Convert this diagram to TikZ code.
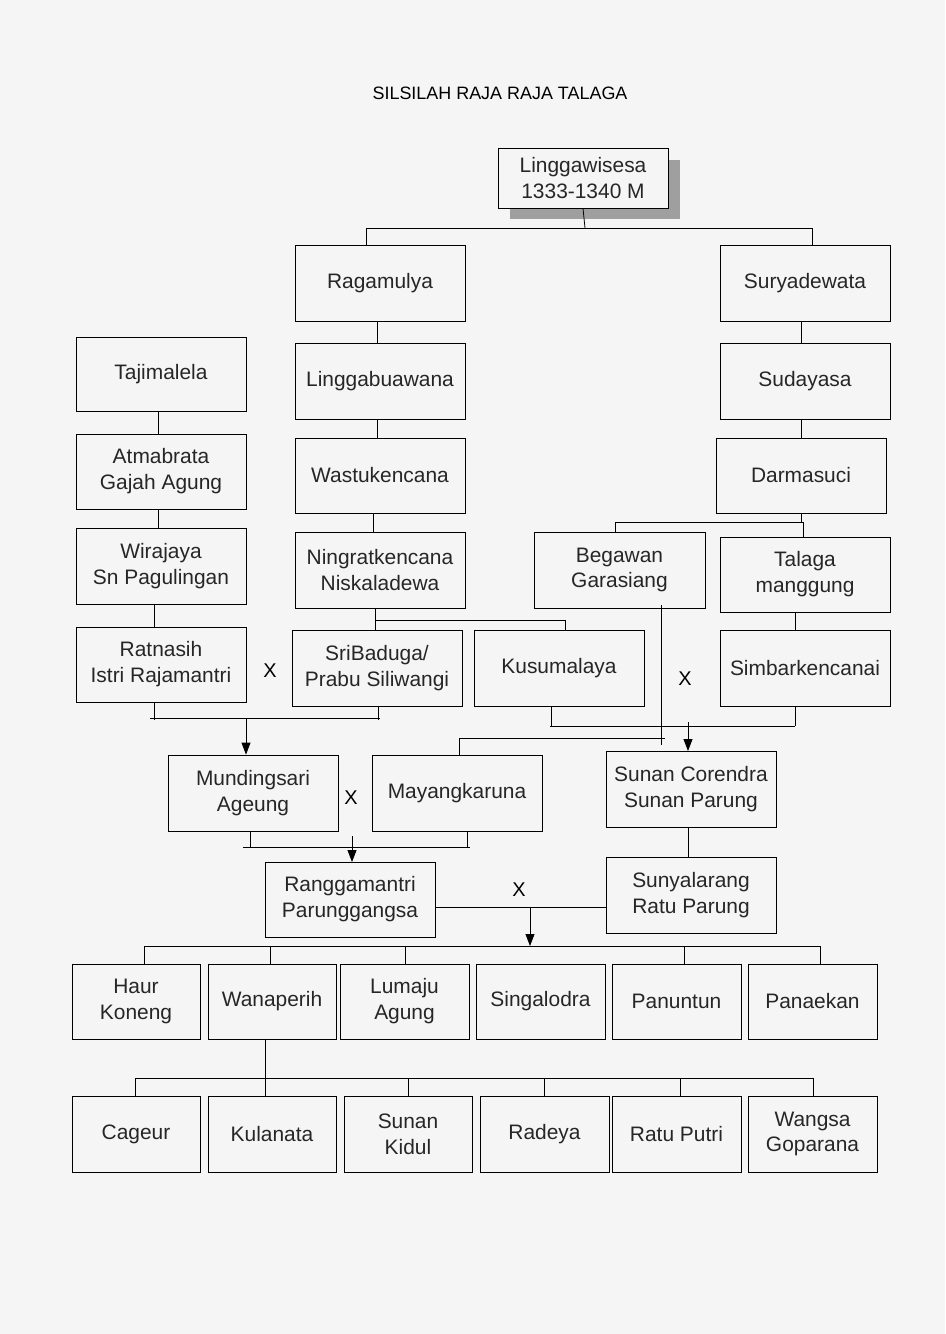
\documentclass[tikz,border=0pt]{standalone}
\usepackage{fontspec}
\setmainfont{Liberation Sans}
\usetikzlibrary{arrows.meta}
\definecolor{bg}{HTML}{F5F5F5}
\begin{document}
\begin{tikzpicture}[x=1bp,y=-1bp,
  box/.style={draw=black,line width=0.8bp,fill=bg,inner sep=0pt,align=center,font=\fontsize{21}{26}\selectfont,text=black!85},
  ln/.style={draw=black,line width=0.8bp},
  arr/.style={ln,-{Triangle[length=12bp,width=9bp]}},
  xm/.style={font=\fontsize{20}{24}\selectfont}]
\fill[bg] (0,0) rectangle (945,1334);
\useasboundingbox (0,0) rectangle (945,1334);
\newcommand\bx[6]{\node[box,minimum width={(#4-#2)*1bp},minimum height={(#5-#3)*1bp}] (#1) at ({(#2+#4)/2},{(#3+#5)/2}) {#6};}
\node[font=\fontsize{18}{22}\selectfont] (title) at (500,93) {SILSILAH RAJA RAJA TALAGA};
\fill[gray!75] (510,160) rectangle (680,219);
\bx{lg}{498}{148}{668}{208}{Linggawisesa\\1333-1340 M}
\bx{rg}{295}{245}{465}{321}{Ragamulya}
\bx{sd}{720}{245}{890}{321}{Suryadewata}
\bx{tj}{76}{337}{246}{411}{Tajimalela}
\bx{lb}{295}{343}{465}{419}{Linggabuawana}
\bx{su}{720}{343}{890}{419}{Sudayasa}
\bx{at}{76}{434}{246}{509}{Atmabrata\\Gajah Agung}
\bx{wk}{295}{438}{465}{513}{Wastukencana}
\bx{dm}{716}{438}{886}{513}{Darmasuci}
\bx{wr}{76}{528}{246}{604}{Wirajaya\\Sn Pagulingan}
\bx{nk}{295}{532}{465}{608}{Ningratkencana\\Niskaladewa}
\bx{bg}{534}{532}{705}{608}{Begawan\\Garasiang}
\bx{tl}{720}{537}{890}{612}{Talaga\\manggung}
\bx{rt}{76}{627}{246}{702}{Ratnasih\\Istri Rajamantri}
\bx{sb}{292}{630}{462}{706}{SriBaduga/\\Prabu Siliwangi}
\bx{ku}{474}{630}{644}{706}{Kusumalaya}
\bx{sm}{720}{630}{890}{706}{Simbarkencanai}
\bx{mu}{168}{755}{338}{831}{Mundingsari\\Ageung}
\bx{my}{372}{755}{542}{831}{Mayangkaruna}
\bx{sc}{606}{751}{776}{827}{Sunan Corendra\\Sunan Parung}
\bx{rm}{265}{862}{435}{937}{Ranggamantri\\Parunggangsa}
\bx{sy}{606}{857}{776}{933}{Sunyalarang\\Ratu Parung}
\bx{hk}{72}{964}{200}{1039}{Haur\\Koneng}
\bx{wp}{208}{964}{336}{1039}{Wanaperih}
\bx{la}{340}{964}{469}{1039}{Lumaju\\Agung}
\bx{sg}{476}{964}{605}{1039}{Singalodra}
\bx{pn}{612}{964}{741}{1039}{Panuntun}
\bx{pk}{748}{964}{877}{1039}{Panaekan}
\bx{cg}{72}{1096}{200}{1172}{Cageur}
\bx{kl}{208}{1096}{336}{1172}{Kulanata}
\bx{sk}{344}{1096}{472}{1172}{Sunan\\Kidul}
\bx{rd}{480}{1096}{609}{1172}{Radeya}
\bx{rp}{612}{1096}{741}{1172}{Ratu Putri}
\bx{wg}{748}{1096}{877}{1172}{Wangsa\\Goparana}
\node[xm] (x1) at (270,671) {X};
\node[xm] (x2) at (685,679) {X};
\node[xm] (x3) at (351,798) {X};
\node[xm] (x4) at (519,890) {X};
% top
\draw[ln] (lg.south) -- (585,228) coordinate (j0);
\draw[ln] (366,228) -- (812,228);
\draw[ln] (366,228) -- (366,245) (812,228) -- (812,245);
\draw[ln] (377,321) -- (377,343) (377,419) -- (377,438) (373,513) -- (373,532);
\draw[ln] (158,411) -- (158,434) (158,509) -- (158,528) (154,604) -- (154,627);
\draw[ln] (801,321) -- (801,343) (801,419) -- (801,438);
\draw[ln] (801,513) -- (801,522) (615,522) -- (803,522) (615,522) -- (615,532) (803,522) -- (803,537);
\draw[ln] (795,612) -- (795,630);
\draw[ln] (375,608) -- (375,630) (375,620) -- (565,620) -- (565,630);
% Ratnasih x SriBaduga
\draw[ln] (154,702) -- (154,720) (378,706) -- (378,720) (150,718) -- (380,718);
\draw[arr] (246,718) -- (mu.north -| 246,0);
% Kusumalaya x Simbar
\draw[ln] (551,706) -- (551,726) (795,706) -- (795,726) (550,726) -- (795,726);
\draw[arr] (688,722) -- (688,751);
% Begawan
\draw[ln] (661,605) -- (661,745) (459,738) -- (665,738) (459,738) -- (459,755);
% Mundingsari x Mayangkaruna
\draw[ln] (250,831) -- (250,847) (467,831) -- (467,847) (243,847) -- (470,847);
\draw[arr] (352,836) -- (352,862);
\draw[ln] (688,827) -- (688,857);
\draw[ln] (rm.east |- 0,907) -- (sy.west |- 0,907);
\draw[arr] (530,907) -- (530,946);
\draw[ln] (144,946) -- (820,946);
\draw[ln] (144,946) -- (144,964) (270,946) -- (270,964) (405,946) -- (405,964) (684,946) -- (684,964) (820,946) -- (820,964);
\draw[ln] (265,1039) -- (265,1096) (135,1078) -- (813,1078);
\draw[ln] (135,1078) -- (135,1096) (408,1078) -- (408,1096) (544,1078) -- (544,1096) (680,1078) -- (680,1096) (813,1078) -- (813,1096);
\end{tikzpicture}
\end{document}
